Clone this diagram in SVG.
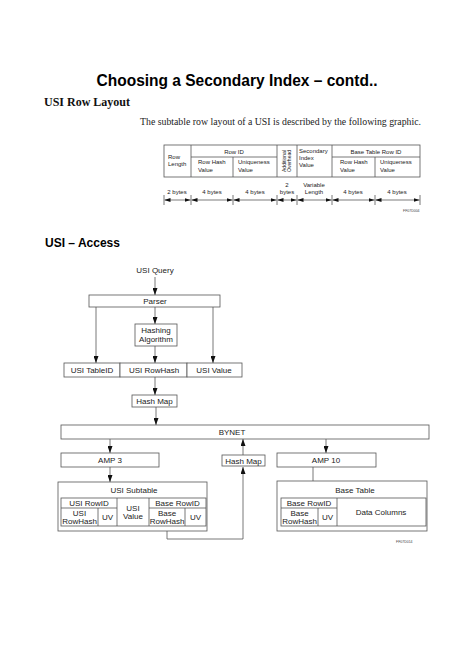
<svg xmlns="http://www.w3.org/2000/svg" width="474" height="671" viewBox="0 0 474 671">
<defs>
<marker id="ah" viewBox="0 0 10 10" refX="10" refY="5" markerWidth="7" markerHeight="5" orient="auto-start-reverse" markerUnits="userSpaceOnUse" preserveAspectRatio="none">
<path d="M0,0 L10,5 L0,10 z" fill="#111"/>
</marker>
<marker id="dh" viewBox="0 0 10 10" refX="10" refY="5" markerWidth="6" markerHeight="4" orient="auto-start-reverse" markerUnits="userSpaceOnUse" preserveAspectRatio="none">
<path d="M0,0 L10,5 L0,10 z" fill="#111"/>
</marker>
</defs>
<style>
.bx{fill:#fff;stroke:#555;stroke-width:0.8}
.ln{fill:none;stroke:#555;stroke-width:0.8}
.ar{fill:none;stroke:#555;stroke-width:0.8;marker-end:url(#ah)}
.t{font-family:"Liberation Sans",Arial,sans-serif;font-size:8px;fill:#222;text-anchor:middle}
.s{font-family:"Liberation Sans",Arial,sans-serif;font-size:6px;fill:#222}
.sc{font-family:"Liberation Sans",Arial,sans-serif;font-size:6px;fill:#222;text-anchor:middle}
.tiny{font-family:"Liberation Sans",Arial,sans-serif;font-size:3.5px;fill:#444}
.dim{fill:none;stroke:#222;stroke-width:0.6;marker-start:url(#dh);marker-end:url(#dh)}
</style>
<rect width="474" height="671" fill="#fff"/>
<text x="237" y="86" font-family="Liberation Sans,Arial,sans-serif" font-weight="bold" font-size="16" text-anchor="middle" textLength="281" lengthAdjust="spacingAndGlyphs" fill="#000">Choosing a Secondary Index – contd..</text>
<text x="44" y="106" font-family="Liberation Serif,Times New Roman,serif" font-weight="bold" font-size="12" fill="#111">USI Row Layout</text>
<text x="140" y="125" font-family="Liberation Serif,Times New Roman,serif" font-size="9.5" textLength="281" lengthAdjust="spacingAndGlyphs" fill="#222">The subtable row layout of a USI is described by the following graphic.</text>

<g id="row-layout">
<rect class="bx" x="164" y="145" width="256" height="32"/>
<line class="ln" x1="191" y1="145" x2="191" y2="177"/>
<line class="ln" x1="277" y1="145" x2="277" y2="177"/>
<line class="ln" x1="297" y1="145" x2="297" y2="177"/>
<line class="ln" x1="332" y1="145" x2="332" y2="177"/>
<line class="ln" x1="191" y1="157" x2="277" y2="157"/>
<line class="ln" x1="332" y1="157" x2="420" y2="157"/>
<line class="ln" x1="233" y1="157" x2="233" y2="177"/>
<line class="ln" x1="375" y1="157" x2="375" y2="177"/>
<text class="s" x="168" y="159">Row</text>
<text class="s" x="168" y="166">Length</text>
<text class="sc" x="234" y="154">Row ID</text>
<text class="s" x="198" y="164">Row Hash</text>
<text class="s" x="198" y="172">Value</text>
<text class="s" x="238" y="164">Uniqueness</text>
<text class="s" x="238" y="172">Value</text>
<g transform="translate(287,161) rotate(-90)">
<text x="0" y="-1.5" font-family="Liberation Sans,Arial,sans-serif" font-size="5" text-anchor="middle" fill="#222">Additional</text>
<text x="0" y="4" font-family="Liberation Sans,Arial,sans-serif" font-size="5" text-anchor="middle" fill="#222">Overhead</text>
</g>
<text class="s" x="299" y="153">Secondary</text>
<text class="s" x="299" y="160">Index</text>
<text class="s" x="299" y="167">Value</text>
<text class="sc" x="376" y="154">Base Table Row ID</text>
<text class="s" x="340" y="164">Row Hash</text>
<text class="s" x="340" y="172">Value</text>
<text class="s" x="380" y="164">Uniqueness</text>
<text class="s" x="380" y="172">Value</text>
</g>

<g id="dimensions">
<g class="ln">
<line x1="164" y1="195" x2="164" y2="205"/>
<line x1="191" y1="195" x2="191" y2="205"/>
<line x1="233" y1="195" x2="233" y2="205"/>
<line x1="277" y1="195" x2="277" y2="205"/>
<line x1="297" y1="195" x2="297" y2="205"/>
<line x1="332" y1="195" x2="332" y2="205"/>
<line x1="375" y1="195" x2="375" y2="205"/>
<line x1="420" y1="195" x2="420" y2="205"/>
</g>
<line class="dim" x1="164.5" y1="200" x2="190.5" y2="200"/>
<line class="dim" x1="191.5" y1="200" x2="232.5" y2="200"/>
<line class="dim" x1="233.5" y1="200" x2="276.5" y2="200"/>
<line class="dim" x1="277.5" y1="200" x2="296.5" y2="200"/>
<line class="dim" x1="297.5" y1="200" x2="331.5" y2="200"/>
<line class="dim" x1="332.5" y1="200" x2="374.5" y2="200"/>
<line class="dim" x1="375.5" y1="200" x2="419.5" y2="200"/>
<text class="sc" x="177" y="194">2 bytes</text>
<text class="sc" x="212" y="194">4 bytes</text>
<text class="sc" x="255" y="194">4 bytes</text>
<text class="sc" x="287" y="187">2</text>
<text class="sc" x="287" y="194">bytes</text>
<text class="sc" x="314" y="187">Variable</text>
<text class="sc" x="314" y="194">Length</text>
<text class="sc" x="353" y="194">4 bytes</text>
<text class="sc" x="397" y="194">4 bytes</text>
<text class="tiny" x="403" y="212">FF07D004</text>
</g>

<text x="45" y="247" font-family="Liberation Sans,Arial,sans-serif" font-weight="bold" font-size="12" fill="#000">USI – Access</text>

<g id="connectors">
<line class="ar" x1="155" y1="277" x2="155" y2="295"/>
<line class="ar" x1="96" y1="307" x2="96" y2="363"/>
<line class="ar" x1="155" y1="307" x2="155" y2="324"/>
<line class="ar" x1="213" y1="307" x2="213" y2="363"/>
<line class="ar" x1="155" y1="346" x2="155" y2="363"/>
<line class="ar" x1="155" y1="377" x2="155" y2="395"/>
<line class="ar" x1="156" y1="407" x2="156" y2="425"/>
<line class="ar" x1="110" y1="439" x2="110" y2="453"/>
<line class="ar" x1="110" y1="467" x2="110" y2="482"/>
<line class="ar" x1="326" y1="439" x2="326" y2="453"/>
<line class="ar" x1="313" y1="467" x2="313" y2="498"/>
<line class="ar" x1="243" y1="455" x2="243" y2="439"/>
<polyline class="ar" points="167,526 167,539 243,539 243,467"/>
</g>

<g id="usi-query"><text class="t" x="155" y="273">USI Query</text></g>
<g id="parser"><rect class="bx" x="89" y="295" width="131" height="12"/><text class="t" x="155" y="304">Parser</text></g>
<g id="hashing"><rect class="bx" x="135" y="324" width="42" height="22"/><text class="t" x="156" y="333">Hashing</text><text class="t" x="156" y="342">Algorithm</text></g>
<g id="usi-tableid"><rect class="bx" x="64" y="363" width="56" height="14"/><text class="t" x="92" y="373">USI TableID</text></g>
<g id="usi-rowhash"><rect class="bx" x="120" y="363" width="67" height="14"/><text class="t" x="154" y="373">USI RowHash</text></g>
<g id="usi-value"><rect class="bx" x="187" y="363" width="55" height="14"/><text class="t" x="214" y="373">USI Value</text></g>
<g id="hashmap1"><rect class="bx" x="132" y="395" width="45" height="12"/><text class="t" x="154.5" y="404">Hash Map</text></g>
<g id="bynet"><rect class="bx" x="61" y="425" width="368" height="14"/><text class="t" x="232" y="435">BYNET</text></g>
<g id="amp3"><rect class="bx" x="61" y="453" width="98" height="14"/><text class="t" x="110" y="463">AMP 3</text></g>
<g id="hashmap2"><rect class="bx" x="222" y="455" width="43" height="11"/><text class="t" x="243.5" y="463.5">Hash Map</text></g>
<g id="amp10"><rect class="bx" x="277" y="453" width="99" height="14"/><text class="t" x="326" y="463">AMP 10</text></g>

<g id="usi-subtable">
<rect class="bx" x="58" y="482" width="149" height="49"/>
<text class="t" x="134" y="493">USI Subtable</text>
<rect class="bx" x="61" y="498" width="145" height="28"/>
<line class="ln" x1="61" y1="508" x2="117" y2="508"/>
<line class="ln" x1="149" y1="508" x2="206" y2="508"/>
<line class="ln" x1="117" y1="498" x2="117" y2="526"/>
<line class="ln" x1="149" y1="498" x2="149" y2="526"/>
<line class="ln" x1="98" y1="508" x2="98" y2="526"/>
<line class="ln" x1="185" y1="508" x2="185" y2="526"/>
<text class="t" x="89" y="506">USI RowID</text>
<text class="t" x="79.5" y="516">USI</text>
<text class="t" x="79.5" y="524">RowHash</text>
<text class="t" x="107.5" y="520">UV</text>
<text class="t" x="133" y="511">USI</text>
<text class="t" x="133" y="519">Value</text>
<text class="t" x="177.5" y="506">Base RowID</text>
<text class="t" x="167" y="516">Base</text>
<text class="t" x="167" y="524">RowHash</text>
<text class="t" x="195.5" y="520">UV</text>
</g>

<g id="base-table">
<rect class="bx" x="277" y="481" width="150" height="50"/>
<text class="t" x="355" y="493">Base Table</text>
<rect class="bx" x="281" y="498" width="145" height="28"/>
<line class="ln" x1="281" y1="508" x2="337" y2="508"/>
<line class="ln" x1="337" y1="498" x2="337" y2="526"/>
<line class="ln" x1="318" y1="508" x2="318" y2="526"/>
<text class="t" x="309" y="506">Base RowID</text>
<text class="t" x="299.5" y="516">Base</text>
<text class="t" x="299.5" y="524">RowHash</text>
<text class="t" x="327.5" y="520">UV</text>
<text class="t" x="381" y="515">Data Columns</text>
</g>
<text class="tiny" x="396" y="543">FF07D014</text>
</svg>
